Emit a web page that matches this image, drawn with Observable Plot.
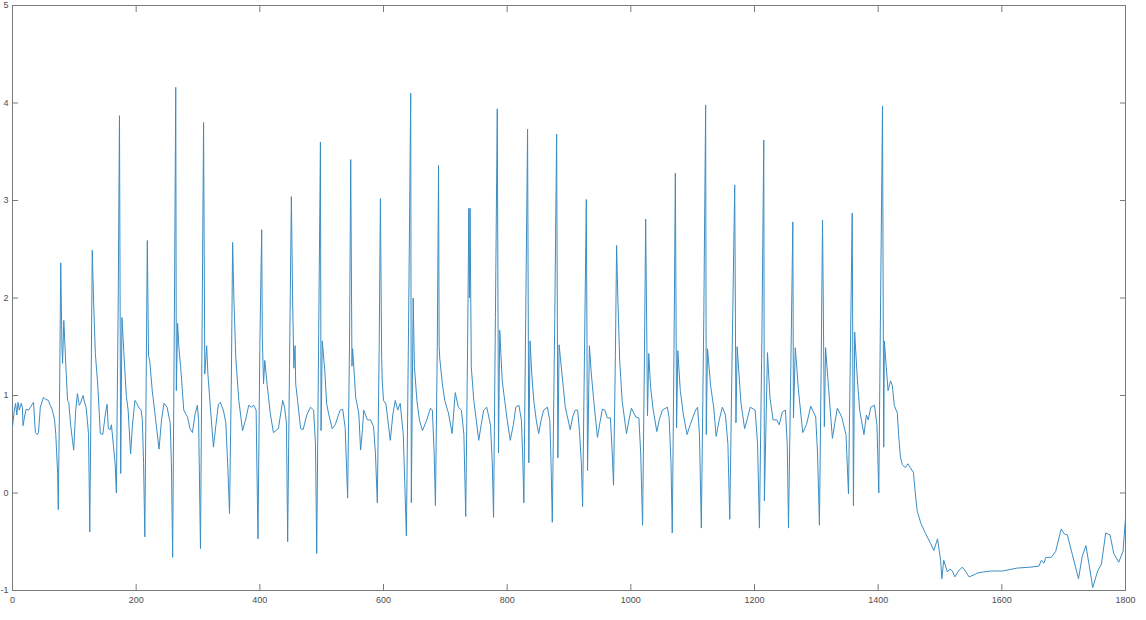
<!DOCTYPE html>
<html>
<head>
<meta charset="utf-8">
<script src="https://cdn.jsdelivr.net/npm/d3@7"></script>
<script src="https://cdn.jsdelivr.net/npm/@observablehq/plot@0.6"></script>
<style>
  html, body { margin: 0; padding: 0; background: #fff; }
  #chart svg { display: block; }
</style>
</head>
<body>
<div id="chart"></div>
<script>
// Signal samples: [sample index, value]
const segment0to400 = [
  [0,0.68],[3,0.85],[5,0.92],[7,0.8],[9,0.93],[11,0.85],[14,0.92],[16,0.88],[17,0.69],[20,0.8],[22,0.86],[26,0.85],[29,0.88],[34,0.93],[37,0.62],[40,0.6],[42,0.62],[45,0.88],[50,0.98],[54,0.96],[58,0.95],[61,0.9],[64,0.86],[68,0.75],[70,0.6],[73,0.2],[74,-0.17],[76,0.9],[78,2.36],[80,1.5],[81,1.33],[83,1.77],[86,1.34],[89,0.95],[91,0.93],[94,0.7],[97,0.54],[99,0.44],[102,0.83],[105,1.02],[108,0.9],[110,0.92],[114,1.0],[117,0.92],[119,0.88],[121,0.75],[123,0.6],[125,-0.4],[127,1.0],[129,2.49],[131,2.0],[134,1.43],[138,1.1],[142,0.61],[146,0.6],[150,0.8],[153,0.91],[155,0.66],[158,0.65],[160,0.7],[163,0.5],[166,0.3],[168,0.0],[171,2.0],[173,3.87],[175,0.2],[177,1.8],[180,1.45],[184,1.0],[187,0.85],[191,0.4],[194,0.7],[198,0.95],[201,0.92],[204,0.88],[208,0.85],[210,0.75],[212,0.3],[214,-0.45],[216,1.0],[218,2.59],[220,1.41],[222,1.35],[226,1.05],[231,0.78],[237,0.45],[241,0.75],[245,0.92],[250,0.88],[255,0.72],[257,0.3],[259,-0.66],[262,2.0],[264,4.16],[265,1.05],[267,1.74],[269,1.5],[272,1.29],[277,0.85],[283,0.78],[287,0.66],[291,0.62],[295,0.8],[299,0.9],[301,0.75],[304,-0.57],[307,2.0],[309,3.8],[311,1.22],[314,1.51],[316,1.22],[320,0.88],[325,0.47],[329,0.7],[333,0.91],[336,0.93],[341,0.85],[345,0.72],[348,0.3],[351,-0.21],[354,1.2],[356,2.57],[358,2.0],[361,1.4],[366,0.95],[372,0.64],[377,0.75],[382,0.9],[386,0.88],[390,0.9],[394,0.85],[395,0.4],[397,-0.47]
];
const segment400to800 = [
  [400,1.5],[403,2.7],[404,1.6],[406,1.12],[408,1.36],[412,1.1],[417,0.81],[422,0.62],[430,0.66],[437,0.95],[440,0.88],[443,0.72],[445,-0.5],[448,1.3],[451,3.04],[453,2.0],[455,1.28],[457,1.51],[458,1.12],[461,0.95],[466,0.66],[470,0.65],[476,0.8],[482,0.88],[487,0.85],[490,0.5],[492,-0.62],[495,1.5],[498,3.6],[499,0.64],[501,1.56],[505,1.26],[508,0.92],[511,0.82],[517,0.66],[522,0.7],[526,0.78],[530,0.85],[534,0.86],[538,0.67],[542,-0.05],[545,1.5],[547,3.42],[549,1.3],[550,1.48],[552,1.29],[555,0.98],[560,0.82],[563,0.44],[566,0.65],[568,0.85],[574,0.75],[579,0.75],[584,0.68],[587,0.4],[590,-0.1],[593,1.5],[595,3.02],[597,1.4],[598,1.15],[600,0.95],[604,0.91],[611,0.54],[615,0.8],[619,0.95],[623,0.85],[627,0.92],[632,0.6],[637,-0.44],[641,2.0],[644,4.1],[645,-0.1],[648,2.0],[650,1.3],[654,0.95],[658,0.75],[663,0.64],[670,0.75],[676,0.87],[679,0.85],[682,0.4],[684,-0.13],[687,1.5],[689,3.36],[690,1.5],[691,1.38],[695,1.13],[699,0.95],[705,0.82],[711,0.61],[716,1.03],[721,0.88],[726,0.85],[730,0.6],[733,-0.24],[736,1.5],[738,2.92],[739,2.0],[740,2.92],[742,1.29],[746,0.95],[750,0.75],[754,0.54],[758,0.7],[762,0.85],[767,0.88],[773,0.7],[776,0.3],[778,-0.25],[781,1.8],[784,3.94],[786,0.41],[788,1.67],[792,1.15],[796,0.95],[800,0.75]
];
const segment800to1200 = [
  [805,0.54],[810,0.7],[814,0.88],[819,0.9],[823,0.75],[825,0.4],[827,-0.1],[830,1.8],[833,3.73],[835,0.31],[837,1.56],[840,1.2],[843,0.95],[847,0.75],[851,0.61],[855,0.75],[859,0.85],[865,0.88],[869,0.74],[871,0.3],[873,-0.3],[877,1.8],[880,3.68],[882,0.36],[884,1.52],[889,1.2],[894,0.88],[902,0.65],[906,0.78],[910,0.85],[914,0.85],[917,0.63],[920,0.3],[922,-0.14],[925,1.4],[928,3.01],[930,0.23],[933,1.51],[936,1.23],[940,0.95],[946,0.57],[950,0.72],[954,0.86],[958,0.85],[962,0.77],[967,0.77],[970,0.4],[972,0.08],[975,1.4],[977,2.54],[979,2.0],[982,1.36],[986,0.94],[993,0.61],[997,0.75],[1001,0.87],[1008,0.78],[1013,0.77],[1016,0.4],[1019,-0.33],[1022,1.4],[1024,2.81],[1027,0.79],[1029,1.43],[1032,1.08],[1036,0.86],[1042,0.63],[1046,0.75],[1051,0.85],[1059,0.88],[1062,0.77],[1065,0.3],[1067,-0.41],[1070,1.6],[1072,3.28],[1074,0.67],[1076,1.46],[1080,1.05],[1085,0.8],[1091,0.6],[1096,0.7],[1104,0.84],[1108,0.88],[1111,0.6],[1114,-0.36],[1118,1.8],[1121,3.98],[1122,0.6],[1124,1.48],[1129,1.1],[1134,0.88],[1138,0.58],[1143,0.75],[1148,0.88],[1153,0.8],[1157,0.5],[1160,-0.27],[1164,1.5],[1168,3.16],[1170,0.72],[1172,1.5],[1178,0.93],[1184,0.66],[1188,0.75],[1193,0.88],[1201,0.85],[1205,0.5]
];
const segment1200to1420 = [
  [1208,-0.36],[1212,1.6],[1215,3.62],[1216,-0.08],[1221,1.44],[1225,0.98],[1230,0.75],[1236,0.75],[1240,0.7],[1245,0.83],[1250,0.85],[1253,0.5],[1255,-0.36],[1259,1.4],[1262,2.78],[1263,0.77],[1266,1.49],[1271,1.06],[1278,0.62],[1284,0.7],[1291,0.89],[1299,0.78],[1302,0.4],[1305,-0.33],[1308,1.4],[1310,2.8],[1313,0.68],[1315,1.49],[1320,1.06],[1326,0.56],[1330,0.72],[1334,0.87],[1341,0.78],[1348,0.6],[1352,-0.01],[1355,1.4],[1358,2.87],[1360,-0.13],[1362,1.65],[1366,1.2],[1370,0.85],[1377,0.6],[1381,0.8],[1384,0.75],[1388,0.88],[1394,0.9],[1398,0.7],[1401,0.0],[1404,2.0],[1407,3.97],[1409,0.47],[1410,1.56],[1413,1.3],[1416,1.05],[1420,1.15]
];
const segment1420to1800 = [
  [1423,1.1],[1426,0.9],[1431,0.82],[1433,0.6],[1436,0.37],[1439,0.29],[1444,0.26],[1448,0.3],[1452,0.26],[1457,0.21],[1460,0.0],[1463,-0.18],[1469,-0.31],[1477,-0.42],[1485,-0.52],[1490,-0.59],[1496,-0.47],[1501,-0.69],[1503,-0.88],[1506,-0.69],[1512,-0.81],[1516,-0.78],[1520,-0.8],[1524,-0.86],[1530,-0.8],[1536,-0.76],[1541,-0.8],[1547,-0.86],[1555,-0.84],[1561,-0.82],[1570,-0.81],[1582,-0.8],[1601,-0.8],[1625,-0.77],[1647,-0.76],[1660,-0.75],[1664,-0.69],[1668,-0.72],[1671,-0.66],[1680,-0.66],[1687,-0.6],[1696,-0.37],[1701,-0.42],[1706,-0.43],[1714,-0.63],[1724,-0.88],[1730,-0.65],[1736,-0.54],[1741,-0.73],[1747,-0.97],[1755,-0.8],[1761,-0.73],[1768,-0.41],[1775,-0.43],[1781,-0.62],[1789,-0.71],[1796,-0.6],[1800,-0.26]
];

const xTicks = [0, 200, 400, 600, 800, 1000, 1200, 1400, 1600, 1800];
const yTicks = [-1, 0, 1, 2, 3, 4, 5];
const xDomain = [0, 1800];
const yDomain = [-1, 5];

const signal = [...segment0to400, ...segment400to800, ...segment800to1200, ...segment1200to1420, ...segment1420to1800];

const axisColor = "#7a7a7a";
const labelColor = "#4d4d4d";
const noLabel = () => "";
const fmt = d => String(d);

const chart = Plot.plot({
  width: 1146,
  height: 620,
  marginLeft: 12,
  marginRight: 21,
  marginTop: 5,
  marginBottom: 30,
  style: { fontFamily: "'Liberation Sans', Arial, sans-serif", fontSize: "9px", color: labelColor, background: "#fff" },
  x: { domain: xDomain },
  y: { domain: yDomain },
  marks: [
    Plot.frame({ stroke: axisColor, strokeWidth: 1 }),
    // inward ticks on all four sides
    Plot.axisX({ ticks: xTicks, anchor: "bottom", tickSize: -6, tickFormat: noLabel, label: null, stroke: axisColor }),
    Plot.axisX({ ticks: xTicks, anchor: "top", tickSize: -6, tickFormat: noLabel, label: null, stroke: axisColor }),
    Plot.axisY({ ticks: yTicks, anchor: "left", tickSize: -6, tickFormat: noLabel, label: null, stroke: axisColor }),
    Plot.axisY({ ticks: yTicks, anchor: "right", tickSize: -6, tickFormat: noLabel, label: null, stroke: axisColor }),
    // tick labels
    Plot.axisX({ ticks: xTicks, anchor: "bottom", tickSize: 0, tickPadding: 6, tickFormat: fmt, label: null, fill: labelColor }),
    Plot.axisY({ ticks: yTicks, anchor: "left", tickSize: 0, tickPadding: 4, tickFormat: fmt, label: null, fill: labelColor }),
    Plot.line(signal, { x: d => d[0], y: d => d[1], stroke: "#3b8dc4", strokeWidth: 1, strokeLinejoin: "round" })
  ]
});
document.getElementById("chart").appendChild(chart);
</script>
</body>
</html>
